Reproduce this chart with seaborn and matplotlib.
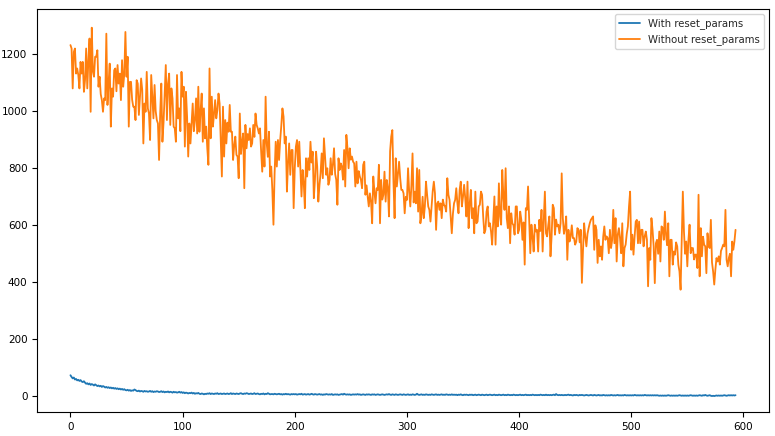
import numpy as np
import pandas as pd
import matplotlib
matplotlib.use("Agg")
import matplotlib.pyplot as plt
import seaborn as sns

series_names = ["With reset_params", "Without reset_params"]

# "With reset_params" (blue)
with_reset = [
    74,68,63,66,59,61,56,58,54,57,52,50,53,48,44,46,42,45,40,43,
    41,38,42,39,36,38,35,37,33,36,34,31,33,30,32,29,31,28,30,27,
    29,26,28,25,27,24,26,23,25,22,21,23,20,22,19,21,20,24,22,19,
    18,20,17,19,18,16,19,17,18,16,17,19,16,18,15,17,16,18,17,15,
    16,18,15,17,14,16,15,17,14,16,15,13,16,14,15,13,14,16,13,15,
    12,14,11,13,12,10,12,11,13,10,12,9,11,10,12,9,8,10,9,7,
    9,8,10,9,11,8,10,9,8,10,9,11,8,9,10,8,9,10,8,9,
    10,8,9,11,8,10,9,8,10,9,8,10,11,9,8,10,9,11,10,8,
    9,10,8,9,11,8,9,10,8,7,9,8,10,7,9,8,11,9,7,8,
    8,7,9,8,7,8,9,7,8,6,8,7,9,7,8,7,6,8,7,8,
    7,8,6,7,8,7,9,6,7,8,6,7,8,6,7,9,7,6,8,7,
    6,7,8,6,7,5,7,6,8,7,6,7,6,8,5,6,7,6,7,5,
    6,7,8,6,9,7,6,7,6,7,5,6,7,6,7,6,8,6,7,5,
    6,7,6,5,7,6,7,6,5,7,6,7,5,6,7,6,5,6,7,6,
    5,6,7,6,8,6,5,7,6,5,7,6,5,6,7,6,5,7,6,5,
    6,7,5,6,5,7,6,5,6,9,6,5,6,7,5,6,5,7,6,5,
    6,5,7,6,5,6,7,5,6,5,6,7,5,6,5,7,6,5,6,5,
    7,5,6,5,6,4,6,5,7,5,4,6,5,6,5,4,6,5,6,4,
    5,6,4,5,6,5,4,6,5,4,5,6,4,5,6,5,4,5,6,4,
    5,4,6,5,4,5,6,4,5,4,6,5,4,5,4,6,5,4,5,4,
    5,6,4,5,4,5,6,4,5,4,5,4,6,5,4,5,4,5,4,6,
    5,4,5,4,6,4,5,4,5,4,5,6,4,8,5,4,5,4,5,4,
    4,5,4,5,6,4,5,4,3,5,4,5,4,3,5,4,5,4,3,4,
    5,4,3,4,5,4,3,5,4,3,4,5,3,4,3,5,4,3,4,3,
    4,3,5,4,3,4,3,4,5,3,4,3,4,3,5,4,3,4,3,4,
    3,4,3,5,4,3,4,3,4,3,4,3,5,4,3,4,3,4,3,4,
    3,4,3,4,3,2,3,2,3,2,3,2,3,4,3,2,3,2,3,2,
    3,2,3,4,3,2,3,2,3,2,3,2,3,4,3,2,3,2,3,2,
    3,4,3,2,4,3,5,3,2,3,4,2,1,2,1,2,3,2,3,2,
    3,2,3,4,3,2,3,4,3,4,3,4,3,4,
]

# "Without reset_params" (orange), in consecutive stretches of episodes
without_a = [1232,1220,1080,1208,1220,1132,1150,1127,1080,1173,
    1132,1173,1068,1110,1220,1080,1179,1255,998,1293,
    1140,1121,1191,1191,1214,1086,1121,1060,1039,998,
    1045,1039,1272,1022,1100,1167,946,1080,1051,1144,
    1150,1070,1162,1097,1132,1039,1179,1086,1130,1278,
    1121,1191,946,1103,1103,1040,1016,1016,969,1109,
    1097,987,1050,1115,1074,887,1027,998,1138,1010,
    992,899,1127,1051,975,1092,1000,969,957,829,
    992,1097,893,960,1057,1162,969,1097,1132,952,
    1080,1045,946,940,893,1127,975,1010,930]
without_b = [1138,1051,1086,876,1068,980,841,957,887,957,
    1027,930,969,1045,922,1086,928,1000,1062,893,
    1010,905,946,870,812,1150,905,1051,946,990,
    1039,975,1004,1062,1027,900,771,1016,841,969,
    887,960,928,1022,928,928,829,880,911,847,
    841,765,992,850,893,922,730,952,870,920,
    899,940,876,887,952,910,992,952,940,922,
    940,860,788,899,806,1051,887,840,928,771,
    806,724,602,780,893,806,899,829,899,950,
    1010,981,887,911,718,820,887,777,864,864,
    660,800,876]
without_c = [899,806,893,794,701,794,750,660,835,771,
    835,794,893,820,858,695,759,858,806,683,
    740,782,852,765,905,841,777,800,742,759,
    835,777,812,870,780,759,672,835,794,817,
    806,760,864,736,917,870,800,870,830,841,
    823,817,736,823,747,790,771,759,730,812,
    823,707,740,701,666,712,683,607,771,720,
    677,730,724,812,607,759,690,707,788,683,
    759,730,631,860,911,934,753,625,835,736,
    780,823,765,724,724,712,642,700,689,800,
    718,666,740]
without_d = [852,680,718,677,800,648,794,607,637,700,
    625,666,753,707,666,654,613,666,720,753,
    712,584,677,683,654,677,625,690,672,666,
    648,765,707,689,631,572,640,677,689,730,
    677,642,724,753,666,700,742,695,631,753,
    590,677,724,625,660,572,718,607,613,666,
    672,718,707,630,572,584,648,666,596,607,
    578,532,620,701,532,666,596,747,631,602,
    794,700,654,800,625,590,666,537,642,607,
    600,567,666,666,572,584,648,619,549,610,
    462]
without_e = [660,654,736,613,502,602,560,508,602,578,
    584,508,619,580,654,508,619,718,572,561,
    600,631,491,561,672,660,567,620,596,602,
    572,607,782,625,570,590,631,479,584,543,
    561,600,555,555,532,543,590,584,540,584,
    398,514,607,561,526,570,590,607,619,625,
    631,514,600,584,468,549,491,526,479,560,
    596,549,561,555,502,584,520,549,654,537,
    625,473,567,590,555,502,607,456,520,532,
    570,596,666,718,514,567,497,560,613,619,
    537,613,537]
without_f = [584,584,526,561,578,549,386,520,479,625,
    584,526,397,537,549,500,578,473,596,590,
    549,648,567,530,607,421,549,549,462,508,
    497,540,526,462,438,374,549,718,578,500,
    543,456,549,602,502,520,520,480,497,497,
    450,707,421,590,491,560,532,526,432,572,
    526,520,619,470,438,392,444,485,473,491,
    462,510,520,532,526,654,479,456,485,500,
    421,543,514,543,584]

without_reset = without_a + without_b + without_c + without_d + without_e + without_f

sns.set_style("ticks")
plt.rcParams['font.family'] = ['DejaVu Sans']

fig = plt.figure(figsize=(7.75, 4.36), dpi=100)
ax = fig.add_axes([0.048, 0.055, 0.944, 0.924])

df_with = pd.DataFrame({"episode": np.arange(len(with_reset)), "value": with_reset})
df_without = pd.DataFrame({"episode": np.arange(len(without_reset)), "value": without_reset})

sns.lineplot(data=df_with, x="episode", y="value", ax=ax, color="#1f77b4",
             linewidth=1.3, label=series_names[0])
sns.lineplot(data=df_without, x="episode", y="value", ax=ax, color="#ff7f0e",
             linewidth=1.3, label=series_names[1])

ax.set_xlabel("")
ax.set_ylabel("")
ax.set_xticks([0, 100, 200, 300, 400, 500, 600])
ax.set_yticks([0, 200, 400, 600, 800, 1000, 1200])
ax.set_ylim(-55, 1358)
ax.tick_params(axis="both", labelsize=7.5, length=3.5, width=0.8, colors="black")
for s in ax.spines.values():
    s.set_visible(True)
    s.set_color("black")
    s.set_linewidth(0.8)
ax.legend(loc="upper right", fontsize=7.3, frameon=True)

fig.savefig("out.png", dpi=100)
